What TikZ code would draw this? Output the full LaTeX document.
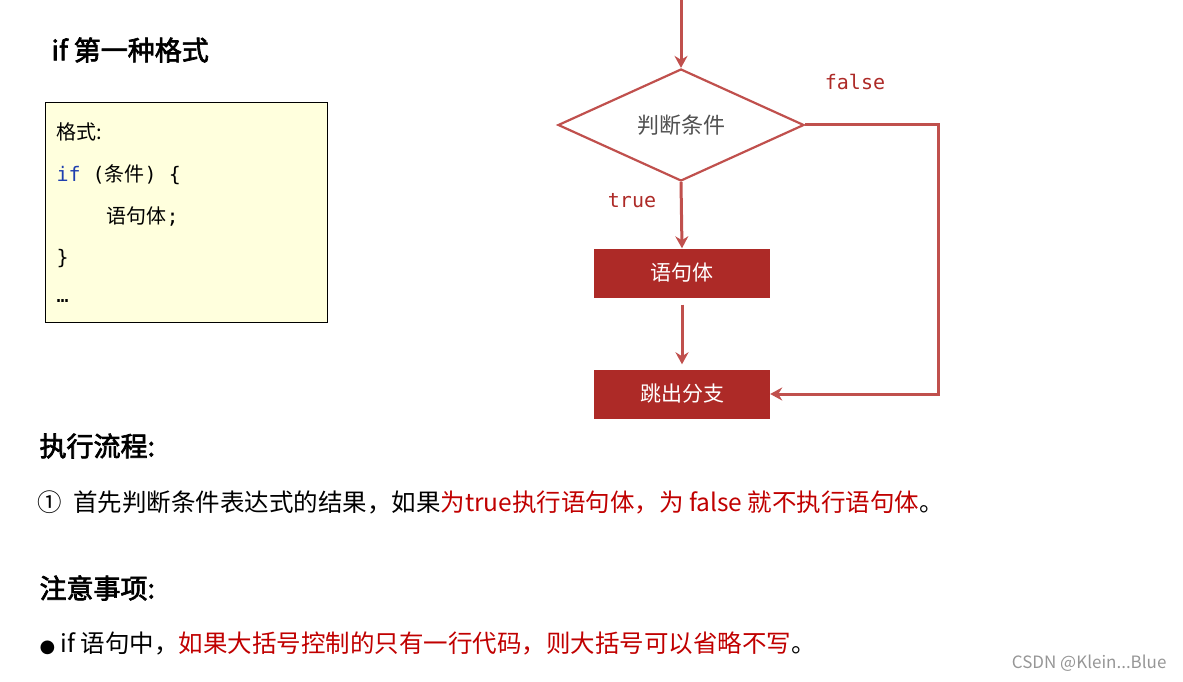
\documentclass[tikz,border=0pt]{standalone}
\usepackage{fontspec}
\setmainfont{Noto Sans CJK SC}
\setmonofont{DejaVu Sans Mono}
\newfontfamily\cjkb[FakeBold=2.5]{Noto Sans CJK SC}
\newfontfamily\dejavu{DejaVu Sans}
\usetikzlibrary{shapes.geometric,arrows.meta}
\definecolor{arr}{HTML}{C0504D}
\definecolor{boxred}{HTML}{AD2A27}
\definecolor{txtred}{HTML}{C00000}
\definecolor{codeblue}{HTML}{1F3FAF}
\begin{document}
\begin{tikzpicture}[x=1pt,y=-1pt,
  flow/.style={draw=arr,line width=3pt,-{Stealth[length=12pt,width=13pt]}},
  redbox/.style={fill=boxred,minimum width=176pt,minimum height=49pt,text=white,font=\fontsize{21}{24}\selectfont},
  lbl/.style={font=\ttfamily\fontsize{20}{22}\selectfont,text=boxred},
  body/.style={anchor=west,font=\fontsize{24.5}{28}\selectfont},
  head/.style={anchor=west,font=\cjkb\fontsize{27}{30}\selectfont}]
\useasboundingbox (0,0) rectangle (1183,682);
\node[head] (title) at (48,50) {if 第一种格式};
\node[draw=black,line width=1.2pt,fill={rgb,255:red,255;green,255;blue,221},minimum width=282pt,minimum height=220pt,anchor=north west] (code) at (45,102) {};
\begin{scope}[every node/.style={anchor=west,font=\fontsize{20}{22}\selectfont}]
\node (c1) at (53,132) {格式:};
\node (c2) at (53,175) {{\ttfamily\textcolor{codeblue}{if} (}条件{\ttfamily) \{}};
\node (c3) at (103,217) {语句体{\ttfamily;}};
\node (c4) at (53,259) {{\ttfamily\}}};
\node (c5) at (53,301) {\ttfamily…};
\end{scope}
\node[diamond,draw=arr,line width=2.2pt,minimum width=246pt,minimum height=112pt,inner sep=0pt,aspect=2.2,font=\fontsize{22}{24}\selectfont,text={rgb,255:red,80;green,80;blue,80}] (d) at (681,125) {判断条件};
\coordinate (top) at (681,0);
\draw[flow] (top) -- (d.north);
\node[redbox] (b1) at (682,273) {语句体};
\node[redbox] (b2) at (682,394) {跳出分支};
\draw[flow] (d.south) -- (b1.north);
\draw[flow] ([yshift=-7pt]b1.south) -- ([yshift=5pt]b2.north);
\draw[flow] (d.east) -- (938,125) -- (938,394) -- (b2.east);
\node[lbl] (f) at (855,82) {false};
\node[lbl] (t) at (632,201) {true};
\node[head] (h1) at (36,446) {执行流程:};
\node[body] (l1) at (34,502) {① \ 首先判断条件表达式的结果，如果\textcolor{txtred}{为true执行语句体，为 false 就不执行语句体}。};
\node[head] (h2) at (36,588) {注意事项:};
\node[body] (l2) at (36,643) {{\dejavu\fontsize{18}{20}\selectfont ●} if 语句中，\textcolor{txtred}{如果大括号控制的只有一行代码，则大括号可以省略不写}。};
\node[anchor=east,text={rgb,255:red,150;green,150;blue,150},font=\fontsize{17}{20}\selectfont] (w) at (1170,663) {CSDN @Klein...Blue};
\end{tikzpicture}
\end{document}
